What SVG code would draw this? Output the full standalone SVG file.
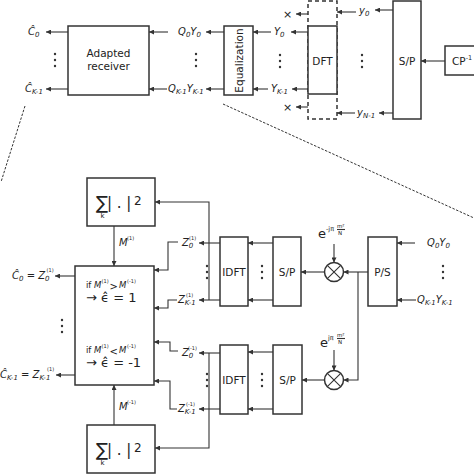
<svg xmlns="http://www.w3.org/2000/svg" width="474" height="474" viewBox="0 0 474 474">
<defs>
<marker id="ah" viewBox="0 0 10 10" refX="10" refY="5" markerWidth="6" markerHeight="5" orient="auto" markerUnits="userSpaceOnUse"><path d="M0,0 L10,5 L0,10 z" fill="#333"/></marker>
<style>
.box{fill:#fff;stroke:#333;stroke-width:1.5}
.dash{fill:#fff;stroke:#333;stroke-width:1.5;stroke-dasharray:4 3}
.ln{fill:none;stroke:#333;stroke-width:1.1}
.ar{fill:none;stroke:#333;stroke-width:1.1;marker-end:url(#ah)}
.dl{fill:none;stroke:#333;stroke-width:1;stroke-dasharray:2.5 1.5}
text{font-family:"DejaVu Sans","Liberation Sans",sans-serif;fill:#222}
.b{font-size:10.5px;text-anchor:middle}
.i{font-style:italic;font-size:10px}
.s{font-size:7px}
.u{font-size:5px;font-style:normal}
.dot{fill:#333}
</style>
</defs>
<rect width="474" height="474" fill="#fff"/>

<!-- dashed zoom lines -->
<g id="zoom-lines">
<path class="dl" d="M25,106 L1,182"/>
<path class="dl" d="M223,104 L474,218"/>
</g>

<!-- nodes top -->
<g id="adapted-receiver"><rect class="box" x="68" y="26" width="81" height="69"/><text class="b" x="108.5" y="57">Adapted</text><text class="b" x="108.5" y="70">receiver</text></g>
<g id="equalization"><rect class="box" x="224" y="26" width="29" height="69"/><text class="b" transform="translate(242.5,60.5) rotate(-90)">Equalization</text></g>
<g id="dft"><rect class="dash" x="308" y="1" width="29" height="118"/><rect class="box" x="308" y="26" width="29" height="68"/><text class="b" x="322.5" y="65">DFT</text></g>
<g id="sp-top"><rect class="box" x="393" y="1" width="28" height="118"/><text class="b" x="407" y="65">S/P</text></g>
<g id="cp"><rect class="box" x="445" y="46" width="40" height="29"/><text x="452" y="65" font-size="10.5">CP<tspan font-size="6.5" dy="-5">-1</tspan></text></g>

<!-- top labels -->
<g id="top-labels">
<text class="i" x="28" y="35">Ĉ<tspan class="s" dy="2">0</tspan></text>
<text class="i" x="25" y="92">Ĉ<tspan class="s" dy="2">K-1</tspan></text>
<text class="i" x="178" y="35">Q<tspan class="s" dy="2">0</tspan><tspan dy="-2">Y</tspan><tspan class="s" dy="2">0</tspan></text>
<text class="i" x="168" y="92">Q<tspan class="s" dy="2">K-1</tspan><tspan dy="-2">Y</tspan><tspan class="s" dy="2">K-1</tspan></text>
<text class="i" x="274" y="35">Y<tspan class="s" dy="2">0</tspan></text>
<text class="i" x="271" y="92">Y<tspan class="s" dy="2">K-1</tspan></text>
<text x="283" y="18" font-size="11">×</text>
<text x="283" y="111" font-size="11">×</text>
<text class="i" x="359" y="14">y<tspan class="s" dy="2">0</tspan></text>
<text class="i" x="357" y="116">y<tspan class="s" dy="2">N-1</tspan></text>
</g>

<!-- dots -->
<g id="dots">
<g class="dot"><circle cx="55" cy="54" r="1.2"/><circle cx="55" cy="60" r="1.2"/><circle cx="55" cy="66" r="1.2"/></g>
<g class="dot"><circle cx="196" cy="54" r="1.2"/><circle cx="196" cy="60" r="1.2"/><circle cx="196" cy="66" r="1.2"/></g>
<g class="dot"><circle cx="280" cy="55" r="1.2"/><circle cx="280" cy="61" r="1.2"/><circle cx="280" cy="67" r="1.2"/></g>
<g class="dot"><circle cx="362" cy="55" r="1.2"/><circle cx="362" cy="61" r="1.2"/><circle cx="362" cy="67" r="1.2"/></g>
<g class="dot"><circle cx="62" cy="320" r="1.2"/><circle cx="62" cy="326" r="1.2"/><circle cx="62" cy="332" r="1.2"/></g>
<g class="dot"><circle cx="207" cy="266" r="1.2"/><circle cx="207" cy="272" r="1.2"/><circle cx="207" cy="278" r="1.2"/></g>
<g class="dot"><circle cx="262" cy="266" r="1.2"/><circle cx="262" cy="272" r="1.2"/><circle cx="262" cy="278" r="1.2"/></g>
<g class="dot"><circle cx="443" cy="266" r="1.2"/><circle cx="443" cy="272" r="1.2"/><circle cx="443" cy="278" r="1.2"/></g>
<g class="dot"><circle cx="207" cy="374" r="1.2"/><circle cx="207" cy="380" r="1.2"/><circle cx="207" cy="386" r="1.2"/></g>
<g class="dot"><circle cx="262" cy="374" r="1.2"/><circle cx="262" cy="380" r="1.2"/><circle cx="262" cy="386" r="1.2"/></g>
</g>

<!-- bottom nodes -->
<g id="sum-top"><rect class="box" x="87" y="178" width="68" height="48"/><text x="96" y="209" font-size="18">∑</text><text x="107" y="208" font-size="15">| . |</text><text x="134" y="205" font-size="12">2</text><text x="100.5" y="218" font-size="7">k</text></g>
<g id="sum-bottom"><rect class="box" x="87" y="425" width="68" height="48"/><text x="96" y="456" font-size="18">∑</text><text x="107" y="455" font-size="15">| . |</text><text x="134" y="452" font-size="12">2</text><text x="100.5" y="465" font-size="7">k</text></g>
<g id="decision"><rect class="box" x="75" y="266" width="79" height="119"/>
<text x="86" y="288" font-size="8.5">if <tspan font-style="italic">M</tspan></text>
<text x="101.5" y="283" class="u">(1)</text>
<text x="109.5" y="289.5" font-size="10">&gt;</text>
<text x="119" y="288" font-size="8.5" font-style="italic">M</text>
<text x="127" y="283" class="u">(-1)</text>
<text x="86" y="302" font-size="13">→ ϵ̂ = 1</text>
<text x="86" y="353" font-size="8.5">if <tspan font-style="italic">M</tspan></text>
<text x="101.5" y="348" class="u">(1)</text>
<text x="109.5" y="354.5" font-size="10">&lt;</text>
<text x="119" y="353" font-size="8.5" font-style="italic">M</text>
<text x="127" y="348" class="u">(-1)</text>
<text x="86" y="367" font-size="13">→ ϵ̂ = -1</text>
</g>
<g id="idft-top"><rect class="box" x="220" y="237" width="28" height="69"/><text class="b" x="234" y="276">IDFT</text></g>
<g id="sp-mid-top"><rect class="box" x="273" y="237" width="28" height="69"/><text class="b" x="287" y="276">S/P</text></g>
<g id="mult-top"><circle class="box" cx="334" cy="272" r="9.5"/><path class="ln" d="M327.3,265.3 L340.7,278.7 M340.7,265.3 L327.3,278.7"/></g>
<g id="ps"><rect class="box" x="368" y="237" width="29" height="69"/><text class="b" x="382.5" y="276">P/S</text></g>
<g id="idft-bottom"><rect class="box" x="220" y="345" width="28" height="69"/><text class="b" x="234" y="384">IDFT</text></g>
<g id="sp-mid-bottom"><rect class="box" x="273" y="345" width="29" height="69"/><text class="b" x="287.5" y="384">S/P</text></g>
<g id="mult-bottom"><circle class="box" cx="334" cy="380" r="9.5"/><path class="ln" d="M327.3,373.3 L340.7,386.7 M340.7,373.3 L327.3,386.7"/></g>

<!-- bottom labels -->
<g id="bottom-labels">
<text x="318" y="238" font-size="13">e</text><text x="326" y="231" font-size="6.5">-jπ</text><text x="337" y="228" font-size="5.5">m²</text><path class="ln" d="M337,229.5 H345" stroke-width="0.6"/><text x="338" y="235" font-size="5.5">N</text>
<text x="320" y="347" font-size="13">e</text><text x="328" y="340" font-size="6.5">jπ</text><text x="337" y="337" font-size="5.5">m²</text><path class="ln" d="M337,338.5 H345" stroke-width="0.6"/><text x="338" y="344" font-size="5.5">N</text>
<text class="i" x="427" y="246">Q<tspan class="s" dy="2">0</tspan><tspan dy="-2">Y</tspan><tspan class="s" dy="2">0</tspan></text>
<text class="i" x="417" y="303">Q<tspan class="s" dy="2">K-1</tspan><tspan dy="-2">Y</tspan><tspan class="s" dy="2">K-1</tspan></text>
<text class="i" x="182" y="246">Z<tspan class="s" dy="2">0</tspan></text><text class="u" x="189" y="240">(1)</text>
<text class="i" x="178" y="303">Z<tspan class="s" dy="2">K-1</tspan></text><text class="u" x="186" y="297">(1)</text>
<text class="i" x="182" y="356">Z<tspan class="s" dy="2">0</tspan></text><text class="u" x="188" y="350">(-1)</text>
<text class="i" x="178" y="412">Z<tspan class="s" dy="2">K-1</tspan></text><text class="u" x="186" y="406">(-1)</text>
<text class="i" x="119" y="246" font-size="9">M</text><text class="u" x="127" y="240">(1)</text>
<text class="i" x="119" y="410" font-size="9">M</text><text class="u" x="127" y="404">(-1)</text>
<text class="i" x="12" y="279">Ĉ<tspan class="s" dy="2">0</tspan><tspan dy="-2" font-style="normal"> = </tspan>Z<tspan class="s" dy="2">0</tspan></text><text class="u" x="46.5" y="272">(1)</text>
<text class="i" x="0" y="378">Ĉ<tspan class="s" dy="2">K-1</tspan><tspan dy="-2" font-style="normal"> = </tspan>Z<tspan class="s" dy="2">K-1</tspan></text><text class="u" x="47" y="371">(1)</text>
</g>

<!-- connectors -->
<g id="connectors">
<path class="ar" d="M68,32 H46"/>
<path class="ar" d="M68,89 H46"/>
<path class="ar" d="M168,32 H149"/>
<path class="ar" d="M167,89 H149"/>
<path class="ar" d="M224,32 H206"/>
<path class="ar" d="M224,89 H206"/>
<path class="ar" d="M271,32 H253"/>
<path class="ar" d="M268,89 H253"/>
<path class="ar" d="M308,32 H291"/>
<path class="ar" d="M308,89 H292"/>
<path class="ar" d="M308,14 H296"/>
<path class="ar" d="M308,107 H296"/>
<path class="ar" d="M393,10 H375"/>
<path class="ar" d="M356,12 H337"/>
<path class="ar" d="M393,113 H379"/>
<path class="ar" d="M355,113 H337"/>
<path class="ar" d="M445,61 H421"/>

<path class="ar" d="M114,226 V266"/>
<path class="ar" d="M114,425 V385"/>
<path class="ar" d="M75,276 H55"/>
<path class="ar" d="M75,375 H56"/>
<path class="ar" d="M178,242 H168 V270 H154"/>
<path class="ar" d="M177,300 H168 V308 H154"/>
<path class="ar" d="M220,243 H199"/>
<path class="ar" d="M220,300 H199"/>
<path class="ar" d="M209,300 V202 H155"/>
<path class="ar" d="M273,243 H248"/>
<path class="ar" d="M273,300 H248"/>
<path class="ar" d="M324.5,272 H301"/>
<path class="ar" d="M334,244 V262.5"/>
<path class="ar" d="M368,272 H343.5"/>
<path class="ar" d="M358,272 V380 H343.5"/>
<path class="ar" d="M415,243 H397"/>
<path class="ar" d="M416,300 H397"/>

<path class="ar" d="M273,352 H248"/>
<path class="ar" d="M273,409 H248"/>
<path class="ar" d="M324.5,380 H302"/>
<path class="ar" d="M334,350 V370.5"/>
<path class="ar" d="M220,353 H199"/>
<path class="ar" d="M220,409 H199"/>
<path class="ar" d="M178,351 H170 V342 H154"/>
<path class="ar" d="M177,409 H170 V381 H154"/>
<path class="ar" d="M209,353 V448 H155"/>
</g>
</svg>
